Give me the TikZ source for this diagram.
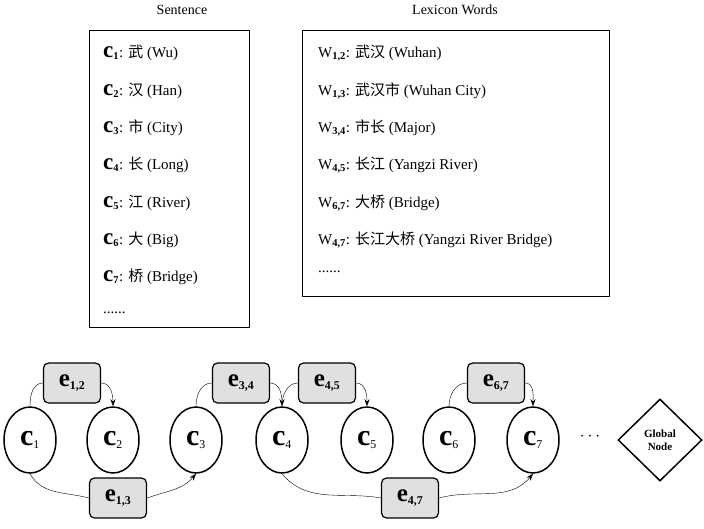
\documentclass[tikz,border=0pt]{standalone}
\usepackage{fontspec}
\setmainfont{Liberation Serif}
\newfontfamily\cjk{Noto Sans CJK SC}
\usetikzlibrary{shapes.geometric,arrows.meta}
\newcommand{\cch}[1]{{\fontsize{23}{23}\selectfont\bfseries c}\textsubscript{\bfseries #1}}
\newcommand{\cbig}[1]{{\fontsize{30}{30}\selectfont\bfseries c}\textsubscript{#1}}
\newcommand{\ww}[1]{W\textsubscript{\bfseries #1}}
\newcommand{\eelab}[1]{{\fontsize{25}{25}\selectfont\bfseries e}\textsubscript{\bfseries #1}}
\begin{document}
\begin{tikzpicture}[x=1pt,y=-1pt,
  every node/.style={inner sep=0pt},
  li/.style={anchor=west,font=\fontsize{15}{15}\selectfont},
  ch/.style={draw,line width=1.5pt,ellipse,minimum width=52pt,minimum height=66pt,font=\fontsize{17}{17}\selectfont},
  eb/.style={draw,line width=1.2pt,fill=black!12,rounded corners=5pt,minimum width=57pt,minimum height=40pt,font=\fontsize{17}{17}\selectfont},
  ar/.style={-{Stealth[length=7pt,width=5pt]},thin},
  ln/.style={thin}]
\useasboundingbox (0,0) rectangle (704,528);
\node[font=\fontsize{14}{14}\selectfont] (t1) at (182,10) {Sentence};
\node[font=\fontsize{14}{14}\selectfont] (t2) at (455,10) {Lexicon Words};
\draw[thin] (89,30) rectangle (249,327);
\draw[thin] (302,30) rectangle (609,296);
\node[li] (s1) at (103,53) {\cch{1}: {\cjk 武} (Wu)};
\node[li] (s2) at (103,91) {\cch{2}: {\cjk 汉} (Han)};
\node[li] (s3) at (103,128) {\cch{3}: {\cjk 市} (City)};
\node[li] (s4) at (103,165) {\cch{4}: {\cjk 长} (Long)};
\node[li] (s5) at (103,203) {\cch{5}: {\cjk 江} (River)};
\node[li] (s6) at (103,240) {\cch{6}: {\cjk 大} (Big)};
\node[li] (s7) at (103,277) {\cch{7}: {\cjk 桥} (Bridge)};
\node[li] (s8) at (103,313) {......};
\node[li] (w1) at (318,53) {\ww{1,2}: {\cjk 武汉} (Wuhan)};
\node[li] (w2) at (318,91) {\ww{1,3}: {\cjk 武汉市} (Wuhan City)};
\node[li] (w3) at (318,128) {\ww{3,4}: {\cjk 市长} (Major)};
\node[li] (w4) at (318,165) {\ww{4,5}: {\cjk 长江} (Yangzi River)};
\node[li] (w5) at (318,203) {\ww{6,7}: {\cjk 大桥} (Bridge)};
\node[li] (w6) at (318,240) {\ww{4,7}: {\cjk 长江大桥} (Yangzi River Bridge)};
\node[li] (w7) at (318,272) {......};
% graph
\foreach \i/\x in {1/30,2/113,3/196,4/282,5/367,6/449,7/533}
  \node[ch] (c\i) at (\x,440) {\cbig{\i}};
\node[eb] (e12) at (72,383) {\eelab{1,2}};
\node[eb] (e34) at (241,383) {\eelab{3,4}};
\node[eb] (e45) at (327,383) {\eelab{4,5}};
\node[eb] (e67) at (496,383) {\eelab{6,7}};
\node[eb] (e13) at (118,498) {\eelab{1,3}};
\node[eb] (e47) at (410,498) {\eelab{4,7}};
\node[font=\fontsize{18}{18}\selectfont\bfseries] (dots) at (590,437) {$\cdots$};
\node[draw,line width=1.5pt,diamond,minimum width=84pt,minimum height=82pt,align=center,font=\fontsize{11}{13}\selectfont\bfseries] (g) at (660,440) {Global\\Node};
\draw[ln] (c1.north) to[out=90,in=180] (e12.west);
\draw[ar] (e12.east) to[out=0,in=90] (c2.north);
\draw[ln] (c3.north) to[out=90,in=180] (e34.west);
\draw[ar] (e34.east) to[out=0,in=90] (c4.north);
\draw[ln] (c4.north) to[out=90,in=180] (e45.west);
\draw[ar] (e45.east) to[out=0,in=90] (c5.north);
\draw[ln] (c6.north) to[out=90,in=180] (e67.west);
\draw[ar] (e67.east) to[out=0,in=90] (c7.north);
\draw[ln] (c1.south) to[out=-60,in=165] (e13.west);
\draw[ar] (e13.east) to[out=20,in=-130] (c3.south);
\draw[ln] (c4.south) to[out=-50,in=170] (e47.west);
\draw[ar] (e47.east) to[out=15,in=-130] (c7.south);
\end{tikzpicture}
\end{document}
